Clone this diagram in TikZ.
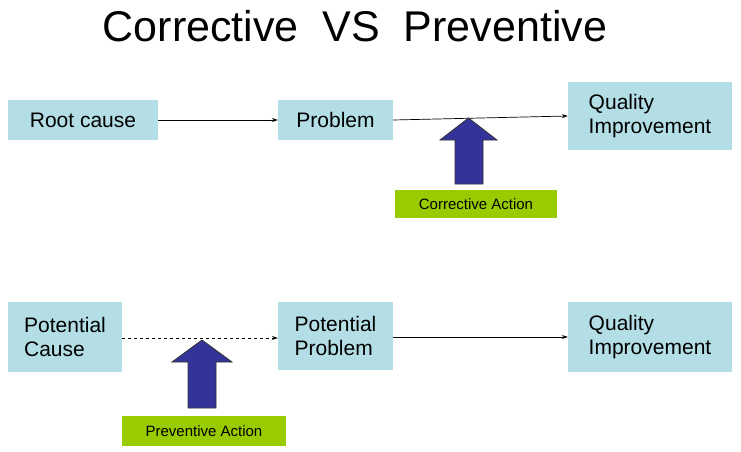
\documentclass[tikz,border=0pt]{standalone}
\usepackage{fontspec}
\setmainfont{Liberation Sans}
\usetikzlibrary{arrows.meta}
\definecolor{boxc}{HTML}{B3DEE5}
\definecolor{greenc}{HTML}{99CC00}
\definecolor{bluec}{HTML}{333399}
\tikzset{
 box/.style={fill=boxc,draw=none,inner sep=0pt,font=\fontsize{21}{24}\selectfont,align=left},
 gbox/.style={fill=greenc,draw=none,inner sep=0pt,font=\fontsize{15}{18}\selectfont},
 conn/.style={-{Stealth[length=6pt,width=4pt]},line width=0.7pt},
 bigarrow/.style={fill=bluec,draw=black!80,line width=0.8pt}
}
\begin{document}
\begin{tikzpicture}[x=1pt,y=-1pt]
\useasboundingbox (0,0) rectangle (741,452);
\fill[white] (0,0) rectangle (741,452);
\node[font=\fontsize{43}{48}\selectfont] (title) at (355,26) {Corrective\ \ VS\ \ Preventive};
% top row
\node[box,minimum width=150,minimum height=40] (rc) at (83,120) {Root cause};
\node[box,minimum width=115,minimum height=40] (pb) at (335.5,120) {Problem};
\node[box,minimum width=164,minimum height=68] (qi1) at (650,116) {Quality\\Improvement};
\draw[conn] (rc.east) -- (pb.west);
\draw[conn] (pb.east) -- (qi1.west);
\node[gbox,minimum width=162,minimum height=28] (ca) at (476,204) {Corrective Action};
\draw[bigarrow] (455,184) -- (455,140) -- (440,140) -- (468.5,118) -- (497,140) -- (483,140) -- (483,184) -- cycle;
% bottom row
\node[box,minimum width=114,minimum height=70] (pc) at (65,337) {Potential\\Cause};
\node[box,minimum width=115,minimum height=68] (pp) at (335.5,336) {Potential\\Problem};
\node[box,minimum width=164,minimum height=70] (qi2) at (650,337) {Quality\\Improvement};
\draw[conn,dashed] (pc.east) ++(0,1) -- (pp.west |- 0,338);
\draw[conn] (pp.east) ++(0,1) -- (qi2.west |- 0,337);
\node[gbox,minimum width=164,minimum height=30] (pa) at (204,431) {Preventive Action};
\draw[bigarrow] (188,408) -- (188,362) -- (172,362) -- (202,340) -- (232,362) -- (216,362) -- (216,408) -- cycle;
\end{tikzpicture}
\end{document}
